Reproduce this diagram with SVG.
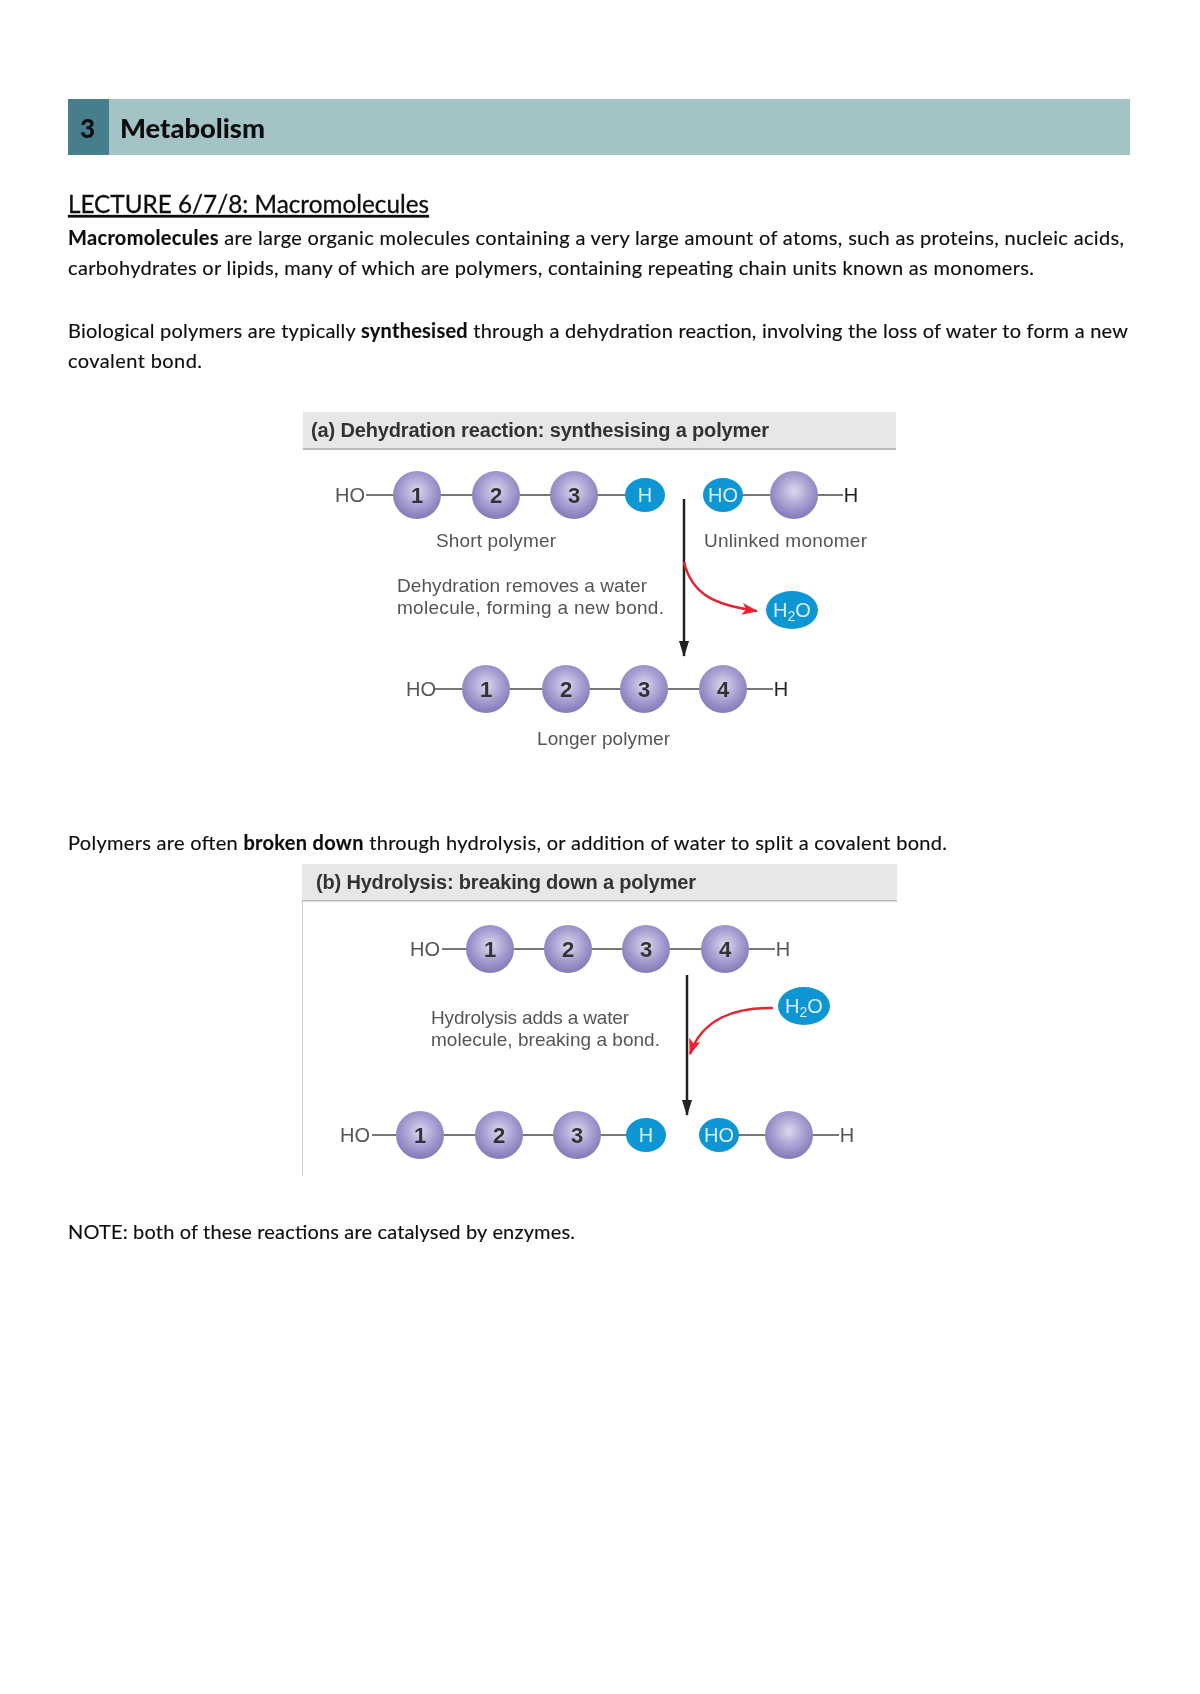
<svg xmlns="http://www.w3.org/2000/svg" width="1200" height="1694" viewBox="0 0 1200 1694">
<style>
text{font-family:"Lato","Liberation Sans",sans-serif;fill:#111}
.b{font-size:20px;stroke:#111;stroke-width:0.15}
.s{font-weight:700}
.t{font-weight:900;font-size:26px}
.fig{font-family:"Liberation Sans","Noto Sans",sans-serif;font-size:19px;fill:#555}
.head{font-family:"Liberation Sans","Noto Sans",sans-serif;font-size:20px;font-weight:700;fill:#333}
.n{font-family:"Liberation Sans",sans-serif;font-size:22px;font-weight:700;fill:#333;text-anchor:middle}
.w{font-family:"Liberation Sans",sans-serif;font-size:20px;fill:#d8eef8;text-anchor:middle}
.a{font-family:"Liberation Sans",sans-serif;font-size:20px;fill:#555;text-anchor:middle}
.k{fill:#222}
.bead{fill:url(#pg)}
.blue{fill:#0b96d3}
.bond{stroke:#777;stroke-width:2;fill:none}
.arr{stroke:#222;stroke-width:2.5;fill:none;marker-end:url(#ka)}
.red{stroke:#e8222e;stroke-width:2.5;fill:none;marker-end:url(#ra)}
</style>
<defs>
<radialGradient id="pg" cx="0.5" cy="0.42" r="0.58"><stop offset="0" stop-color="#dcd9ee"/><stop offset="0.55" stop-color="#a8a0d2"/><stop offset="1" stop-color="#8578b8"/></radialGradient>
<marker id="ka" markerWidth="16" markerHeight="10" refX="15" refY="5" orient="auto" markerUnits="userSpaceOnUse" viewBox="0 0 16 10"><path d="M0 0L16 5L0 10z" fill="#222"/></marker>
<marker id="ra" markerWidth="16" markerHeight="12" refX="15" refY="6" orient="auto" markerUnits="userSpaceOnUse" viewBox="0 0 16 12"><path d="M0 0L16 6L0 12L4 6z" fill="#e8222e"/></marker>
<filter id="soft" x="-5%" y="-5%" width="110%" height="110%"><feGaussianBlur stdDeviation="0.6"/></filter>
<filter id="soft2" x="-2%" y="-5%" width="104%" height="110%"><feGaussianBlur stdDeviation="0.35"/></filter>
</defs>
<rect width="1200" height="1694" fill="#fff"/>
<g id="banner">
<rect x="68" y="99" width="1062" height="56" fill="#a3c3c7"/>
<rect x="68" y="99" width="41" height="56" fill="#477e8b"/>
<g filter="url(#soft2)">
<text x="80" y="138" class="t">3</text>
<text x="120" y="138" class="t" textLength="145" lengthAdjust="spacingAndGlyphs">Metabolism</text>
</g>
</g>
<g id="body" filter="url(#soft2)">
<text x="68" y="213" font-size="25" stroke="#111" stroke-width="0.3" text-decoration="underline" textLength="361" lengthAdjust="spacingAndGlyphs">LECTURE 6/7/8: Macromolecules</text>
<text x="68" y="245" class="b" textLength="1056"><tspan class="s">Macromolecules</tspan> are large organic molecules containing a very large amount of atoms, such as proteins, nucleic acids,</text>
<text x="68" y="275" class="b" textLength="966">carbohydrates or lipids, many of which are polymers, containing repeating chain units known as monomers.</text>
<text x="68" y="338" class="b" textLength="1060">Biological polymers are typically <tspan class="s">synthesised</tspan> through a dehydration reaction, involving the loss of water to form a new</text>
<text x="68" y="368" class="b" textLength="134">covalent bond.</text>
<text x="68" y="850" class="b" textLength="879">Polymers are often <tspan class="s">broken down</tspan> through hydrolysis, or addition of water to split a covalent bond.</text>
<text x="68" y="1239" class="b" textLength="507">NOTE: both of these reactions are catalysed by enzymes.</text>
</g>
<g id="panel-a" filter="url(#soft)">
<rect x="303" y="412" width="593" height="36" fill="#e6e7e8"/>
<rect x="303" y="448" width="593" height="2" fill="#bbb"/>
<text x="311" y="437" class="head" textLength="458">(a) Dehydration reaction: synthesising a polymer</text>
<text x="436" y="547" class="fig" textLength="120">Short polymer</text>
<text x="704" y="547" class="fig" textLength="163">Unlinked monomer</text>
<text x="397" y="592" class="fig" textLength="250">Dehydration removes a water</text>
<text x="397" y="614" class="fig" textLength="267">molecule, forming a new bond.</text>
<text x="537" y="745" class="fig" textLength="133">Longer polymer</text>
</g>
<g id="connectors" filter="url(#soft)">
<path class="bond" d="M366 495H417M417 495H645M723 495H843"/>
<path class="bond" d="M435 689H773"/>
<path class="arr" d="M684 499V656"/>
<path class="red" d="M684 562C692 595 715 605 757 611"/>
<path class="bond" d="M442 949H775"/>
<path class="bond" d="M372 1135H646M719 1135H839"/>
<path class="arr" d="M687 975V1115"/>
<path class="red" d="M773 1008C735 1007 702 1019 690 1054"/>
</g>
<g id="a-row1" filter="url(#soft)">
<text x="350" y="502" class="a">HO</text>
<g id="a1"><circle class="bead" cx="417" cy="495" r="24"/><text x="417" y="503" class="n">1</text></g>
<g id="a2"><circle class="bead" cx="496" cy="495" r="24"/><text x="496" y="503" class="n">2</text></g>
<g id="a3"><circle class="bead" cx="574" cy="495" r="24"/><text x="574" y="503" class="n">3</text></g>
<g id="aH"><ellipse class="blue" cx="645" cy="495" rx="20" ry="17"/><text x="645" y="502" class="w">H</text></g>
<g id="aHO"><ellipse class="blue" cx="723" cy="495" rx="20" ry="17"/><text x="723" y="502" class="w">HO</text></g>
<g id="aM"><circle class="bead" cx="794" cy="495" r="24"/></g>
<text x="851" y="502" class="a k" style="fill:#222">H</text>
<g id="aW"><ellipse class="blue" cx="792" cy="610" rx="26" ry="19"/><text x="792" y="617" class="w">H<tspan font-size="14" dy="4">2</tspan><tspan dy="-4">O</tspan></text></g>
</g>
<g id="a-row2" filter="url(#soft)">
<text x="421" y="696" class="a">HO</text>
<g id="b1"><circle class="bead" cx="486" cy="689" r="24"/><text x="486" y="697" class="n">1</text></g>
<g id="b2"><circle class="bead" cx="566" cy="689" r="24"/><text x="566" y="697" class="n">2</text></g>
<g id="b3"><circle class="bead" cx="644" cy="689" r="24"/><text x="644" y="697" class="n">3</text></g>
<g id="b4"><circle class="bead" cx="723" cy="689" r="24"/><text x="723" y="697" class="n">4</text></g>
<text x="781" y="696" class="a" style="fill:#222">H</text>
</g>
<g id="panel-b" filter="url(#soft)">
<rect x="302" y="864" width="595" height="36" fill="#e6e7e8"/>
<rect x="302" y="900" width="595" height="1.5" fill="#bbb"/>
<rect x="302" y="901" width="1" height="275" fill="#ccc"/>
<text x="316" y="889" class="head" textLength="380">(b) Hydrolysis: breaking down a polymer</text>
<text x="431" y="1024" class="fig" textLength="198">Hydrolysis adds a water</text>
<text x="431" y="1046" class="fig" textLength="229">molecule, breaking a bond.</text>
</g>
<g id="b-row1" filter="url(#soft)">
<text x="425" y="956" class="a">HO</text>
<g id="c1"><circle class="bead" cx="490" cy="949" r="24"/><text x="490" y="957" class="n">1</text></g>
<g id="c2"><circle class="bead" cx="568" cy="949" r="24"/><text x="568" y="957" class="n">2</text></g>
<g id="c3"><circle class="bead" cx="646" cy="949" r="24"/><text x="646" y="957" class="n">3</text></g>
<g id="c4"><circle class="bead" cx="725" cy="949" r="24"/><text x="725" y="957" class="n">4</text></g>
<text x="783" y="956" class="a">H</text>
<g id="cW"><ellipse class="blue" cx="804" cy="1006" rx="26" ry="19"/><text x="804" y="1013" class="w">H<tspan font-size="14" dy="4">2</tspan><tspan dy="-4">O</tspan></text></g>
</g>
<g id="b-row2" filter="url(#soft)">
<text x="355" y="1142" class="a">HO</text>
<g id="d1"><circle class="bead" cx="420" cy="1135" r="24"/><text x="420" y="1143" class="n">1</text></g>
<g id="d2"><circle class="bead" cx="499" cy="1135" r="24"/><text x="499" y="1143" class="n">2</text></g>
<g id="d3"><circle class="bead" cx="577" cy="1135" r="24"/><text x="577" y="1143" class="n">3</text></g>
<g id="dH"><ellipse class="blue" cx="646" cy="1135" rx="20" ry="17"/><text x="646" y="1142" class="w">H</text></g>
<g id="dHO"><ellipse class="blue" cx="719" cy="1135" rx="20" ry="17"/><text x="719" y="1142" class="w">HO</text></g>
<g id="dM"><circle class="bead" cx="789" cy="1135" r="24"/></g>
<text x="847" y="1142" class="a">H</text>
</g>
</svg>
